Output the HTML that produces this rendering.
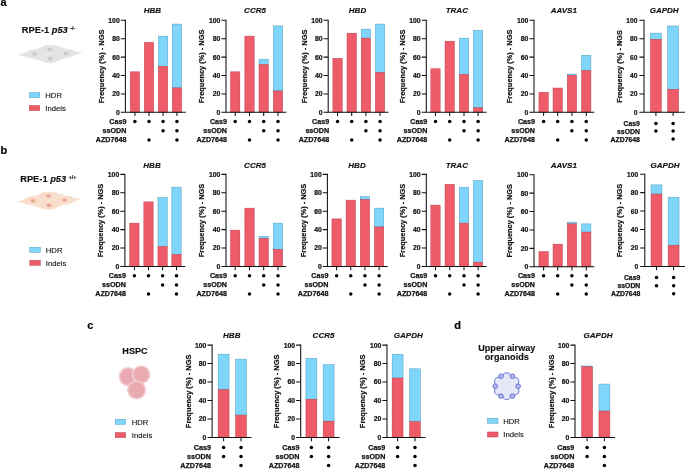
<!DOCTYPE html>
<html><head><meta charset="utf-8"><title>Figure</title>
<style>
html,body{margin:0;padding:0;background:#fff;}
body{width:685px;height:470px;overflow:hidden;}
svg{display:block;font-family:"Liberation Sans", Arial, sans-serif;filter:blur(0.3px);}
text{paint-order:stroke;stroke-linejoin:round;}
.tk{font-weight:bold;fill:#111;stroke:#111;stroke-width:0.22px;}
.tt{font-size:8px;font-weight:bold;font-style:italic;fill:#111;stroke:#111;stroke-width:0.15px;}
.yl{font-weight:bold;fill:#111;stroke:#111;stroke-width:0.22px;}
.lb{font-weight:bold;fill:#111;stroke:#111;stroke-width:0.25px;}
.lg{font-size:7.7px;fill:#111;stroke:#111;stroke-width:0.12px;}
.pl{font-size:11px;font-weight:bold;fill:#000;stroke:#000;stroke-width:0.2px;}
.ct{font-size:9.3px;font-weight:bold;fill:#111;stroke:#111;stroke-width:0.15px;}
.ct2{font-size:9.1px;font-weight:bold;fill:#111;stroke:#111;stroke-width:0.15px;}
</style></head><body>
<svg width="685" height="470" viewBox="0 0 685 470">
<rect width="685" height="470" fill="#fff"/>
<rect x="130.25" y="71.82" width="9.30" height="40.48" fill="#EE5C69" stroke="#BC3E4B" stroke-width="0.5"/>
<rect x="144.35" y="42.38" width="9.30" height="69.92" fill="#EE5C69" stroke="#BC3E4B" stroke-width="0.5"/>
<rect x="158.40" y="36.12" width="9.30" height="30.18" fill="#80D6FA" stroke="#4F9BBD" stroke-width="0.5"/>
<rect x="158.40" y="66.30" width="9.30" height="46.00" fill="#EE5C69" stroke="#BC3E4B" stroke-width="0.5"/>
<rect x="172.30" y="24.07" width="9.30" height="63.85" fill="#80D6FA" stroke="#4F9BBD" stroke-width="0.5"/>
<rect x="172.30" y="87.92" width="9.30" height="24.38" fill="#EE5C69" stroke="#BC3E4B" stroke-width="0.5"/>
<path d="M125.40 19.80V112.80M124.90 112.30H185.70" stroke="#111" stroke-width="1.05" fill="none"/>
<path d="M120.80 112.30H125.40M120.80 93.90H125.40M120.80 75.50H125.40M120.80 57.10H125.40M120.80 38.70H125.40M120.80 20.30H125.40M134.90 112.30V116.10M149.00 112.30V116.10M163.05 112.30V116.10M176.95 112.30V116.10" stroke="#111" stroke-width="1.05" fill="none"/>
<text x="119.70" y="115" text-anchor="end" class="tk" font-size="6.8">0</text>
<text x="119.70" y="96" text-anchor="end" class="tk" font-size="6.8">20</text>
<text x="119.70" y="78" text-anchor="end" class="tk" font-size="6.8">40</text>
<text x="119.70" y="60" text-anchor="end" class="tk" font-size="6.8">60</text>
<text x="119.70" y="41" text-anchor="end" class="tk" font-size="6.8">80</text>
<text x="119.70" y="23" text-anchor="end" class="tk" font-size="6.8">100</text>
<text x="152.30" y="13" text-anchor="middle" class="tt">HBB</text>
<text transform="translate(103.70 66.40) rotate(-90)" text-anchor="middle" class="yl" font-size="7.4">Frequency (%) - NGS</text>
<text x="126.40" y="124" text-anchor="end" class="lb" font-size="7.15">Cas9</text>
<circle cx="134.90" cy="121.50" r="1.75" fill="#000"/>
<circle cx="149.00" cy="121.50" r="1.75" fill="#000"/>
<circle cx="163.05" cy="121.50" r="1.75" fill="#000"/>
<circle cx="176.95" cy="121.50" r="1.75" fill="#000"/>
<text x="126.40" y="133" text-anchor="end" class="lb" font-size="7.15">ssODN</text>
<circle cx="163.05" cy="130.70" r="1.75" fill="#000"/>
<circle cx="176.95" cy="130.70" r="1.75" fill="#000"/>
<text x="126.40" y="142" text-anchor="end" class="lb" font-size="7.15">AZD7648</text>
<circle cx="149.00" cy="139.90" r="1.75" fill="#000"/>
<circle cx="176.95" cy="139.90" r="1.75" fill="#000"/>
<rect x="230.55" y="71.82" width="9.30" height="40.48" fill="#EE5C69" stroke="#BC3E4B" stroke-width="0.5"/>
<rect x="244.85" y="36.12" width="9.30" height="76.18" fill="#EE5C69" stroke="#BC3E4B" stroke-width="0.5"/>
<rect x="259.05" y="59.22" width="9.30" height="5.24" fill="#80D6FA" stroke="#4F9BBD" stroke-width="0.5"/>
<rect x="259.05" y="64.46" width="9.30" height="47.84" fill="#EE5C69" stroke="#BC3E4B" stroke-width="0.5"/>
<rect x="273.35" y="25.91" width="9.30" height="65.04" fill="#80D6FA" stroke="#4F9BBD" stroke-width="0.5"/>
<rect x="273.35" y="90.96" width="9.30" height="21.34" fill="#EE5C69" stroke="#BC3E4B" stroke-width="0.5"/>
<path d="M226.00 19.80V112.80M225.50 112.30H286.30" stroke="#111" stroke-width="1.05" fill="none"/>
<path d="M221.40 112.30H226.00M221.40 93.90H226.00M221.40 75.50H226.00M221.40 57.10H226.00M221.40 38.70H226.00M221.40 20.30H226.00M235.20 112.30V116.10M249.50 112.30V116.10M263.70 112.30V116.10M278.00 112.30V116.10" stroke="#111" stroke-width="1.05" fill="none"/>
<text x="220.30" y="115" text-anchor="end" class="tk" font-size="6.8">0</text>
<text x="220.30" y="96" text-anchor="end" class="tk" font-size="6.8">20</text>
<text x="220.30" y="78" text-anchor="end" class="tk" font-size="6.8">40</text>
<text x="220.30" y="60" text-anchor="end" class="tk" font-size="6.8">60</text>
<text x="220.30" y="41" text-anchor="end" class="tk" font-size="6.8">80</text>
<text x="220.30" y="23" text-anchor="end" class="tk" font-size="6.8">100</text>
<text x="255.00" y="13" text-anchor="middle" class="tt">CCR5</text>
<text transform="translate(204.30 66.40) rotate(-90)" text-anchor="middle" class="yl" font-size="7.4">Frequency (%) - NGS</text>
<text x="227.00" y="124" text-anchor="end" class="lb" font-size="7.15">Cas9</text>
<circle cx="235.20" cy="121.50" r="1.75" fill="#000"/>
<circle cx="249.50" cy="121.50" r="1.75" fill="#000"/>
<circle cx="263.70" cy="121.50" r="1.75" fill="#000"/>
<circle cx="278.00" cy="121.50" r="1.75" fill="#000"/>
<text x="227.00" y="133" text-anchor="end" class="lb" font-size="7.15">ssODN</text>
<circle cx="263.70" cy="130.70" r="1.75" fill="#000"/>
<circle cx="278.00" cy="130.70" r="1.75" fill="#000"/>
<text x="227.00" y="142" text-anchor="end" class="lb" font-size="7.15">AZD7648</text>
<circle cx="249.50" cy="139.90" r="1.75" fill="#000"/>
<circle cx="278.00" cy="139.90" r="1.75" fill="#000"/>
<rect x="332.90" y="58.30" width="9.30" height="54.00" fill="#EE5C69" stroke="#BC3E4B" stroke-width="0.5"/>
<rect x="347.05" y="33.18" width="9.30" height="79.12" fill="#EE5C69" stroke="#BC3E4B" stroke-width="0.5"/>
<rect x="361.25" y="29.13" width="9.30" height="9.02" fill="#80D6FA" stroke="#4F9BBD" stroke-width="0.5"/>
<rect x="361.25" y="38.15" width="9.30" height="74.15" fill="#EE5C69" stroke="#BC3E4B" stroke-width="0.5"/>
<rect x="375.40" y="24.07" width="9.30" height="48.48" fill="#80D6FA" stroke="#4F9BBD" stroke-width="0.5"/>
<rect x="375.40" y="72.56" width="9.30" height="39.74" fill="#EE5C69" stroke="#BC3E4B" stroke-width="0.5"/>
<path d="M328.20 19.80V112.80M327.70 112.30H388.50" stroke="#111" stroke-width="1.05" fill="none"/>
<path d="M323.60 112.30H328.20M323.60 93.90H328.20M323.60 75.50H328.20M323.60 57.10H328.20M323.60 38.70H328.20M323.60 20.30H328.20M337.55 112.30V116.10M351.70 112.30V116.10M365.90 112.30V116.10M380.05 112.30V116.10" stroke="#111" stroke-width="1.05" fill="none"/>
<text x="322.50" y="115" text-anchor="end" class="tk" font-size="6.8">0</text>
<text x="322.50" y="96" text-anchor="end" class="tk" font-size="6.8">20</text>
<text x="322.50" y="78" text-anchor="end" class="tk" font-size="6.8">40</text>
<text x="322.50" y="60" text-anchor="end" class="tk" font-size="6.8">60</text>
<text x="322.50" y="41" text-anchor="end" class="tk" font-size="6.8">80</text>
<text x="322.50" y="23" text-anchor="end" class="tk" font-size="6.8">100</text>
<text x="357.50" y="13" text-anchor="middle" class="tt">HBD</text>
<text transform="translate(306.50 66.40) rotate(-90)" text-anchor="middle" class="yl" font-size="7.4">Frequency (%) - NGS</text>
<text x="329.20" y="124" text-anchor="end" class="lb" font-size="7.15">Cas9</text>
<circle cx="337.55" cy="121.50" r="1.75" fill="#000"/>
<circle cx="351.70" cy="121.50" r="1.75" fill="#000"/>
<circle cx="365.90" cy="121.50" r="1.75" fill="#000"/>
<circle cx="380.05" cy="121.50" r="1.75" fill="#000"/>
<text x="329.20" y="133" text-anchor="end" class="lb" font-size="7.15">ssODN</text>
<circle cx="365.90" cy="130.70" r="1.75" fill="#000"/>
<circle cx="380.05" cy="130.70" r="1.75" fill="#000"/>
<text x="329.20" y="142" text-anchor="end" class="lb" font-size="7.15">AZD7648</text>
<circle cx="351.70" cy="139.90" r="1.75" fill="#000"/>
<circle cx="380.05" cy="139.90" r="1.75" fill="#000"/>
<rect x="430.85" y="68.78" width="9.30" height="43.52" fill="#EE5C69" stroke="#BC3E4B" stroke-width="0.5"/>
<rect x="445.05" y="41.18" width="9.30" height="71.12" fill="#EE5C69" stroke="#BC3E4B" stroke-width="0.5"/>
<rect x="459.35" y="38.15" width="9.30" height="36.43" fill="#80D6FA" stroke="#4F9BBD" stroke-width="0.5"/>
<rect x="459.35" y="74.58" width="9.30" height="37.72" fill="#EE5C69" stroke="#BC3E4B" stroke-width="0.5"/>
<rect x="473.45" y="30.42" width="9.30" height="77.37" fill="#80D6FA" stroke="#4F9BBD" stroke-width="0.5"/>
<rect x="473.45" y="107.79" width="9.30" height="4.51" fill="#EE5C69" stroke="#BC3E4B" stroke-width="0.5"/>
<path d="M426.30 19.80V112.80M425.80 112.30H486.60" stroke="#111" stroke-width="1.05" fill="none"/>
<path d="M421.70 112.30H426.30M421.70 93.90H426.30M421.70 75.50H426.30M421.70 57.10H426.30M421.70 38.70H426.30M421.70 20.30H426.30M435.50 112.30V116.10M449.70 112.30V116.10M464.00 112.30V116.10M478.10 112.30V116.10" stroke="#111" stroke-width="1.05" fill="none"/>
<text x="420.60" y="115" text-anchor="end" class="tk" font-size="6.8">0</text>
<text x="420.60" y="96" text-anchor="end" class="tk" font-size="6.8">20</text>
<text x="420.60" y="78" text-anchor="end" class="tk" font-size="6.8">40</text>
<text x="420.60" y="60" text-anchor="end" class="tk" font-size="6.8">60</text>
<text x="420.60" y="41" text-anchor="end" class="tk" font-size="6.8">80</text>
<text x="420.60" y="23" text-anchor="end" class="tk" font-size="6.8">100</text>
<text x="456.80" y="13" text-anchor="middle" class="tt">TRAC</text>
<text transform="translate(404.60 66.40) rotate(-90)" text-anchor="middle" class="yl" font-size="7.4">Frequency (%) - NGS</text>
<text x="427.30" y="124" text-anchor="end" class="lb" font-size="7.15">Cas9</text>
<circle cx="435.50" cy="121.50" r="1.75" fill="#000"/>
<circle cx="449.70" cy="121.50" r="1.75" fill="#000"/>
<circle cx="464.00" cy="121.50" r="1.75" fill="#000"/>
<circle cx="478.10" cy="121.50" r="1.75" fill="#000"/>
<text x="427.30" y="133" text-anchor="end" class="lb" font-size="7.15">ssODN</text>
<circle cx="464.00" cy="130.70" r="1.75" fill="#000"/>
<circle cx="478.10" cy="130.70" r="1.75" fill="#000"/>
<text x="427.30" y="142" text-anchor="end" class="lb" font-size="7.15">AZD7648</text>
<circle cx="449.70" cy="139.90" r="1.75" fill="#000"/>
<circle cx="478.10" cy="139.90" r="1.75" fill="#000"/>
<rect x="538.95" y="92.34" width="9.30" height="19.96" fill="#EE5C69" stroke="#BC3E4B" stroke-width="0.5"/>
<rect x="553.05" y="88.01" width="9.30" height="24.29" fill="#EE5C69" stroke="#BC3E4B" stroke-width="0.5"/>
<rect x="567.25" y="74.03" width="9.30" height="1.29" fill="#80D6FA" stroke="#4F9BBD" stroke-width="0.5"/>
<rect x="567.25" y="75.32" width="9.30" height="36.98" fill="#EE5C69" stroke="#BC3E4B" stroke-width="0.5"/>
<rect x="581.60" y="55.26" width="9.30" height="15.27" fill="#80D6FA" stroke="#4F9BBD" stroke-width="0.5"/>
<rect x="581.60" y="70.53" width="9.30" height="41.77" fill="#EE5C69" stroke="#BC3E4B" stroke-width="0.5"/>
<path d="M534.00 19.80V112.80M533.50 112.30H594.30" stroke="#111" stroke-width="1.05" fill="none"/>
<path d="M529.40 112.30H534.00M529.40 93.90H534.00M529.40 75.50H534.00M529.40 57.10H534.00M529.40 38.70H534.00M529.40 20.30H534.00M543.60 112.30V116.10M557.70 112.30V116.10M571.90 112.30V116.10M586.25 112.30V116.10" stroke="#111" stroke-width="1.05" fill="none"/>
<text x="528.30" y="115" text-anchor="end" class="tk" font-size="6.8">0</text>
<text x="528.30" y="96" text-anchor="end" class="tk" font-size="6.8">20</text>
<text x="528.30" y="78" text-anchor="end" class="tk" font-size="6.8">40</text>
<text x="528.30" y="60" text-anchor="end" class="tk" font-size="6.8">60</text>
<text x="528.30" y="41" text-anchor="end" class="tk" font-size="6.8">80</text>
<text x="528.30" y="23" text-anchor="end" class="tk" font-size="6.8">100</text>
<text x="563.80" y="13" text-anchor="middle" class="tt">AAVS1</text>
<text transform="translate(512.30 66.40) rotate(-90)" text-anchor="middle" class="yl" font-size="7.4">Frequency (%) - NGS</text>
<text x="535.00" y="124" text-anchor="end" class="lb" font-size="7.15">Cas9</text>
<circle cx="543.60" cy="121.50" r="1.75" fill="#000"/>
<circle cx="557.70" cy="121.50" r="1.75" fill="#000"/>
<circle cx="571.90" cy="121.50" r="1.75" fill="#000"/>
<circle cx="586.25" cy="121.50" r="1.75" fill="#000"/>
<text x="535.00" y="133" text-anchor="end" class="lb" font-size="7.15">ssODN</text>
<circle cx="571.90" cy="130.70" r="1.75" fill="#000"/>
<circle cx="586.25" cy="130.70" r="1.75" fill="#000"/>
<text x="535.00" y="142" text-anchor="end" class="lb" font-size="7.15">AZD7648</text>
<circle cx="557.70" cy="139.90" r="1.75" fill="#000"/>
<circle cx="586.25" cy="139.90" r="1.75" fill="#000"/>
<rect x="650.45" y="33.09" width="10.90" height="6.26" fill="#80D6FA" stroke="#4F9BBD" stroke-width="0.5"/>
<rect x="650.45" y="39.34" width="10.90" height="72.96" fill="#EE5C69" stroke="#BC3E4B" stroke-width="0.5"/>
<rect x="667.65" y="26.00" width="10.90" height="63.30" fill="#80D6FA" stroke="#4F9BBD" stroke-width="0.5"/>
<rect x="667.65" y="89.30" width="10.90" height="23.00" fill="#EE5C69" stroke="#BC3E4B" stroke-width="0.5"/>
<path d="M644.00 19.80V112.80M643.50 112.30H686.00" stroke="#111" stroke-width="1.05" fill="none"/>
<path d="M639.40 112.30H644.00M639.40 93.90H644.00M639.40 75.50H644.00M639.40 57.10H644.00M639.40 38.70H644.00M639.40 20.30H644.00M655.90 112.30V116.10M673.10 112.30V116.10" stroke="#111" stroke-width="1.05" fill="none"/>
<text x="637.40" y="115" text-anchor="end" class="tk" font-size="6.65">0</text>
<text x="637.40" y="96" text-anchor="end" class="tk" font-size="6.65">20</text>
<text x="637.40" y="78" text-anchor="end" class="tk" font-size="6.65">40</text>
<text x="637.40" y="60" text-anchor="end" class="tk" font-size="6.65">60</text>
<text x="637.40" y="41" text-anchor="end" class="tk" font-size="6.65">80</text>
<text x="637.40" y="23" text-anchor="end" class="tk" font-size="6.65">100</text>
<text x="664.20" y="13" text-anchor="middle" class="tt">GAPDH</text>
<text transform="translate(621.50 66.50) rotate(-90)" text-anchor="middle" class="yl" font-size="7.3">Frequency (%) - NGS</text>
<text x="639.90" y="126" text-anchor="end" class="lb" font-size="6.85">Cas9</text>
<circle cx="655.90" cy="123.40" r="1.75" fill="#000"/>
<circle cx="673.10" cy="123.40" r="1.75" fill="#000"/>
<text x="639.90" y="134" text-anchor="end" class="lb" font-size="6.85">ssODN</text>
<circle cx="655.90" cy="131.10" r="1.75" fill="#000"/>
<circle cx="673.10" cy="131.10" r="1.75" fill="#000"/>
<text x="639.90" y="142" text-anchor="end" class="lb" font-size="6.85">AZD7648</text>
<circle cx="673.10" cy="139.10" r="1.75" fill="#000"/>
<rect x="129.75" y="223.16" width="9.30" height="43.29" fill="#EE5C69" stroke="#BC3E4B" stroke-width="0.5"/>
<rect x="143.85" y="201.89" width="9.30" height="64.56" fill="#EE5C69" stroke="#BC3E4B" stroke-width="0.5"/>
<rect x="157.95" y="197.65" width="9.30" height="48.81" fill="#80D6FA" stroke="#4F9BBD" stroke-width="0.5"/>
<rect x="157.95" y="246.46" width="9.30" height="19.99" fill="#EE5C69" stroke="#BC3E4B" stroke-width="0.5"/>
<rect x="171.85" y="187.15" width="9.30" height="67.33" fill="#80D6FA" stroke="#4F9BBD" stroke-width="0.5"/>
<rect x="171.85" y="254.48" width="9.30" height="11.97" fill="#EE5C69" stroke="#BC3E4B" stroke-width="0.5"/>
<path d="M124.90 173.85V266.95M124.40 266.45H185.20" stroke="#111" stroke-width="1.05" fill="none"/>
<path d="M120.30 266.45H124.90M120.30 248.03H124.90M120.30 229.61H124.90M120.30 211.19H124.90M120.30 192.77H124.90M120.30 174.35H124.90M134.40 266.45V270.25M148.50 266.45V270.25M162.60 266.45V270.25M176.50 266.45V270.25" stroke="#111" stroke-width="1.05" fill="none"/>
<text x="119.20" y="269" text-anchor="end" class="tk" font-size="6.8">0</text>
<text x="119.20" y="250" text-anchor="end" class="tk" font-size="6.8">20</text>
<text x="119.20" y="232" text-anchor="end" class="tk" font-size="6.8">40</text>
<text x="119.20" y="214" text-anchor="end" class="tk" font-size="6.8">60</text>
<text x="119.20" y="195" text-anchor="end" class="tk" font-size="6.8">80</text>
<text x="119.20" y="177" text-anchor="end" class="tk" font-size="6.8">100</text>
<text x="152.00" y="168" text-anchor="middle" class="tt">HBB</text>
<text transform="translate(103.20 220.50) rotate(-90)" text-anchor="middle" class="yl" font-size="7.4">Frequency (%) - NGS</text>
<text x="125.90" y="278" text-anchor="end" class="lb" font-size="7.15">Cas9</text>
<circle cx="134.40" cy="275.70" r="1.75" fill="#000"/>
<circle cx="148.50" cy="275.70" r="1.75" fill="#000"/>
<circle cx="162.60" cy="275.70" r="1.75" fill="#000"/>
<circle cx="176.50" cy="275.70" r="1.75" fill="#000"/>
<text x="125.90" y="287" text-anchor="end" class="lb" font-size="7.15">ssODN</text>
<circle cx="162.60" cy="284.90" r="1.75" fill="#000"/>
<circle cx="176.50" cy="284.90" r="1.75" fill="#000"/>
<text x="125.90" y="296" text-anchor="end" class="lb" font-size="7.15">AZD7648</text>
<circle cx="148.50" cy="293.90" r="1.75" fill="#000"/>
<circle cx="176.50" cy="293.90" r="1.75" fill="#000"/>
<rect x="230.55" y="230.16" width="9.30" height="36.29" fill="#EE5C69" stroke="#BC3E4B" stroke-width="0.5"/>
<rect x="244.85" y="208.15" width="9.30" height="58.30" fill="#EE5C69" stroke="#BC3E4B" stroke-width="0.5"/>
<rect x="259.05" y="236.33" width="9.30" height="2.12" fill="#80D6FA" stroke="#4F9BBD" stroke-width="0.5"/>
<rect x="259.05" y="238.45" width="9.30" height="28.00" fill="#EE5C69" stroke="#BC3E4B" stroke-width="0.5"/>
<rect x="273.35" y="223.16" width="9.30" height="26.25" fill="#80D6FA" stroke="#4F9BBD" stroke-width="0.5"/>
<rect x="273.35" y="249.41" width="9.30" height="17.04" fill="#EE5C69" stroke="#BC3E4B" stroke-width="0.5"/>
<path d="M226.00 173.85V266.95M225.50 266.45H286.30" stroke="#111" stroke-width="1.05" fill="none"/>
<path d="M221.40 266.45H226.00M221.40 248.03H226.00M221.40 229.61H226.00M221.40 211.19H226.00M221.40 192.77H226.00M221.40 174.35H226.00M235.20 266.45V270.25M249.50 266.45V270.25M263.70 266.45V270.25M278.00 266.45V270.25" stroke="#111" stroke-width="1.05" fill="none"/>
<text x="220.30" y="269" text-anchor="end" class="tk" font-size="6.8">0</text>
<text x="220.30" y="250" text-anchor="end" class="tk" font-size="6.8">20</text>
<text x="220.30" y="232" text-anchor="end" class="tk" font-size="6.8">40</text>
<text x="220.30" y="214" text-anchor="end" class="tk" font-size="6.8">60</text>
<text x="220.30" y="195" text-anchor="end" class="tk" font-size="6.8">80</text>
<text x="220.30" y="177" text-anchor="end" class="tk" font-size="6.8">100</text>
<text x="255.00" y="168" text-anchor="middle" class="tt">CCR5</text>
<text transform="translate(204.30 220.50) rotate(-90)" text-anchor="middle" class="yl" font-size="7.4">Frequency (%) - NGS</text>
<text x="227.00" y="278" text-anchor="end" class="lb" font-size="7.15">Cas9</text>
<circle cx="235.20" cy="275.70" r="1.75" fill="#000"/>
<circle cx="249.50" cy="275.70" r="1.75" fill="#000"/>
<circle cx="263.70" cy="275.70" r="1.75" fill="#000"/>
<circle cx="278.00" cy="275.70" r="1.75" fill="#000"/>
<text x="227.00" y="287" text-anchor="end" class="lb" font-size="7.15">ssODN</text>
<circle cx="263.70" cy="284.90" r="1.75" fill="#000"/>
<circle cx="278.00" cy="284.90" r="1.75" fill="#000"/>
<text x="227.00" y="296" text-anchor="end" class="lb" font-size="7.15">AZD7648</text>
<circle cx="249.50" cy="293.90" r="1.75" fill="#000"/>
<circle cx="278.00" cy="293.90" r="1.75" fill="#000"/>
<rect x="331.95" y="218.93" width="9.30" height="47.52" fill="#EE5C69" stroke="#BC3E4B" stroke-width="0.5"/>
<rect x="346.10" y="200.14" width="9.30" height="66.31" fill="#EE5C69" stroke="#BC3E4B" stroke-width="0.5"/>
<rect x="360.30" y="196.64" width="9.30" height="2.95" fill="#80D6FA" stroke="#4F9BBD" stroke-width="0.5"/>
<rect x="360.30" y="199.59" width="9.30" height="66.86" fill="#EE5C69" stroke="#BC3E4B" stroke-width="0.5"/>
<rect x="374.45" y="208.15" width="9.30" height="18.79" fill="#80D6FA" stroke="#4F9BBD" stroke-width="0.5"/>
<rect x="374.45" y="226.94" width="9.30" height="39.51" fill="#EE5C69" stroke="#BC3E4B" stroke-width="0.5"/>
<path d="M327.40 173.85V266.95M326.90 266.45H387.70" stroke="#111" stroke-width="1.05" fill="none"/>
<path d="M322.80 266.45H327.40M322.80 248.03H327.40M322.80 229.61H327.40M322.80 211.19H327.40M322.80 192.77H327.40M322.80 174.35H327.40M336.60 266.45V270.25M350.75 266.45V270.25M364.95 266.45V270.25M379.10 266.45V270.25" stroke="#111" stroke-width="1.05" fill="none"/>
<text x="321.70" y="269" text-anchor="end" class="tk" font-size="6.8">0</text>
<text x="321.70" y="250" text-anchor="end" class="tk" font-size="6.8">20</text>
<text x="321.70" y="232" text-anchor="end" class="tk" font-size="6.8">40</text>
<text x="321.70" y="214" text-anchor="end" class="tk" font-size="6.8">60</text>
<text x="321.70" y="195" text-anchor="end" class="tk" font-size="6.8">80</text>
<text x="321.70" y="177" text-anchor="end" class="tk" font-size="6.8">100</text>
<text x="357.00" y="168" text-anchor="middle" class="tt">HBD</text>
<text transform="translate(305.70 220.50) rotate(-90)" text-anchor="middle" class="yl" font-size="7.4">Frequency (%) - NGS</text>
<text x="328.40" y="278" text-anchor="end" class="lb" font-size="7.15">Cas9</text>
<circle cx="336.60" cy="275.70" r="1.75" fill="#000"/>
<circle cx="350.75" cy="275.70" r="1.75" fill="#000"/>
<circle cx="364.95" cy="275.70" r="1.75" fill="#000"/>
<circle cx="379.10" cy="275.70" r="1.75" fill="#000"/>
<text x="328.40" y="287" text-anchor="end" class="lb" font-size="7.15">ssODN</text>
<circle cx="364.95" cy="284.90" r="1.75" fill="#000"/>
<circle cx="379.10" cy="284.90" r="1.75" fill="#000"/>
<text x="328.40" y="296" text-anchor="end" class="lb" font-size="7.15">AZD7648</text>
<circle cx="350.75" cy="293.90" r="1.75" fill="#000"/>
<circle cx="379.10" cy="293.90" r="1.75" fill="#000"/>
<rect x="430.85" y="205.11" width="9.30" height="61.34" fill="#EE5C69" stroke="#BC3E4B" stroke-width="0.5"/>
<rect x="445.05" y="184.39" width="9.30" height="82.06" fill="#EE5C69" stroke="#BC3E4B" stroke-width="0.5"/>
<rect x="459.35" y="187.24" width="9.30" height="35.92" fill="#80D6FA" stroke="#4F9BBD" stroke-width="0.5"/>
<rect x="459.35" y="223.16" width="9.30" height="43.29" fill="#EE5C69" stroke="#BC3E4B" stroke-width="0.5"/>
<rect x="473.45" y="180.61" width="9.30" height="81.60" fill="#80D6FA" stroke="#4F9BBD" stroke-width="0.5"/>
<rect x="473.45" y="262.21" width="9.30" height="4.24" fill="#EE5C69" stroke="#BC3E4B" stroke-width="0.5"/>
<path d="M426.30 173.85V266.95M425.80 266.45H486.60" stroke="#111" stroke-width="1.05" fill="none"/>
<path d="M421.70 266.45H426.30M421.70 248.03H426.30M421.70 229.61H426.30M421.70 211.19H426.30M421.70 192.77H426.30M421.70 174.35H426.30M435.50 266.45V270.25M449.70 266.45V270.25M464.00 266.45V270.25M478.10 266.45V270.25" stroke="#111" stroke-width="1.05" fill="none"/>
<text x="420.60" y="269" text-anchor="end" class="tk" font-size="6.8">0</text>
<text x="420.60" y="250" text-anchor="end" class="tk" font-size="6.8">20</text>
<text x="420.60" y="232" text-anchor="end" class="tk" font-size="6.8">40</text>
<text x="420.60" y="214" text-anchor="end" class="tk" font-size="6.8">60</text>
<text x="420.60" y="195" text-anchor="end" class="tk" font-size="6.8">80</text>
<text x="420.60" y="177" text-anchor="end" class="tk" font-size="6.8">100</text>
<text x="456.80" y="168" text-anchor="middle" class="tt">TRAC</text>
<text transform="translate(404.60 220.50) rotate(-90)" text-anchor="middle" class="yl" font-size="7.4">Frequency (%) - NGS</text>
<text x="427.30" y="278" text-anchor="end" class="lb" font-size="7.15">Cas9</text>
<circle cx="435.50" cy="275.70" r="1.75" fill="#000"/>
<circle cx="449.70" cy="275.70" r="1.75" fill="#000"/>
<circle cx="464.00" cy="275.70" r="1.75" fill="#000"/>
<circle cx="478.10" cy="275.70" r="1.75" fill="#000"/>
<text x="427.30" y="287" text-anchor="end" class="lb" font-size="7.15">ssODN</text>
<circle cx="464.00" cy="284.90" r="1.75" fill="#000"/>
<circle cx="478.10" cy="284.90" r="1.75" fill="#000"/>
<text x="427.30" y="296" text-anchor="end" class="lb" font-size="7.15">AZD7648</text>
<circle cx="449.70" cy="293.90" r="1.75" fill="#000"/>
<circle cx="478.10" cy="293.90" r="1.75" fill="#000"/>
<rect x="538.95" y="251.60" width="9.30" height="15.20" fill="#EE5C69" stroke="#BC3E4B" stroke-width="0.5"/>
<rect x="553.05" y="244.14" width="9.30" height="22.66" fill="#EE5C69" stroke="#BC3E4B" stroke-width="0.5"/>
<rect x="567.25" y="222.13" width="9.30" height="1.75" fill="#80D6FA" stroke="#4F9BBD" stroke-width="0.5"/>
<rect x="567.25" y="223.88" width="9.30" height="42.92" fill="#EE5C69" stroke="#BC3E4B" stroke-width="0.5"/>
<rect x="581.60" y="223.88" width="9.30" height="8.20" fill="#80D6FA" stroke="#4F9BBD" stroke-width="0.5"/>
<rect x="581.60" y="232.08" width="9.30" height="34.72" fill="#EE5C69" stroke="#BC3E4B" stroke-width="0.5"/>
<path d="M534.00 174.20V267.30M533.50 266.80H594.30" stroke="#111" stroke-width="1.05" fill="none"/>
<path d="M529.40 266.80H534.00M529.40 248.38H534.00M529.40 229.96H534.00M529.40 211.54H534.00M529.40 193.12H534.00M529.40 174.70H534.00M543.60 266.80V270.60M557.70 266.80V270.60M571.90 266.80V270.60M586.25 266.80V270.60" stroke="#111" stroke-width="1.05" fill="none"/>
<text x="528.30" y="269" text-anchor="end" class="tk" font-size="6.8">0</text>
<text x="528.30" y="251" text-anchor="end" class="tk" font-size="6.8">20</text>
<text x="528.30" y="232" text-anchor="end" class="tk" font-size="6.8">40</text>
<text x="528.30" y="214" text-anchor="end" class="tk" font-size="6.8">60</text>
<text x="528.30" y="196" text-anchor="end" class="tk" font-size="6.8">80</text>
<text x="528.30" y="177" text-anchor="end" class="tk" font-size="6.8">100</text>
<text x="563.80" y="168" text-anchor="middle" class="tt">AAVS1</text>
<text transform="translate(512.30 220.85) rotate(-90)" text-anchor="middle" class="yl" font-size="7.4">Frequency (%) - NGS</text>
<text x="535.00" y="278" text-anchor="end" class="lb" font-size="7.15">Cas9</text>
<circle cx="543.60" cy="275.70" r="1.75" fill="#000"/>
<circle cx="557.70" cy="275.70" r="1.75" fill="#000"/>
<circle cx="571.90" cy="275.70" r="1.75" fill="#000"/>
<circle cx="586.25" cy="275.70" r="1.75" fill="#000"/>
<text x="535.00" y="287" text-anchor="end" class="lb" font-size="7.15">ssODN</text>
<circle cx="571.90" cy="284.90" r="1.75" fill="#000"/>
<circle cx="586.25" cy="284.90" r="1.75" fill="#000"/>
<text x="535.00" y="296" text-anchor="end" class="lb" font-size="7.15">AZD7648</text>
<circle cx="557.70" cy="293.90" r="1.75" fill="#000"/>
<circle cx="586.25" cy="293.90" r="1.75" fill="#000"/>
<rect x="651.05" y="184.86" width="10.90" height="9.23" fill="#80D6FA" stroke="#4F9BBD" stroke-width="0.5"/>
<rect x="651.05" y="194.09" width="10.90" height="72.36" fill="#EE5C69" stroke="#BC3E4B" stroke-width="0.5"/>
<rect x="668.15" y="197.32" width="10.90" height="47.90" fill="#80D6FA" stroke="#4F9BBD" stroke-width="0.5"/>
<rect x="668.15" y="245.22" width="10.90" height="21.23" fill="#EE5C69" stroke="#BC3E4B" stroke-width="0.5"/>
<path d="M644.80 173.65V266.95M644.30 266.45H686.00" stroke="#111" stroke-width="1.05" fill="none"/>
<path d="M640.20 266.45H644.80M640.20 247.99H644.80M640.20 229.53H644.80M640.20 211.07H644.80M640.20 192.61H644.80M640.20 174.15H644.80M656.50 266.45V270.25M673.60 266.45V270.25" stroke="#111" stroke-width="1.05" fill="none"/>
<text x="638.20" y="269" text-anchor="end" class="tk" font-size="6.65">0</text>
<text x="638.20" y="250" text-anchor="end" class="tk" font-size="6.65">20</text>
<text x="638.20" y="232" text-anchor="end" class="tk" font-size="6.65">40</text>
<text x="638.20" y="214" text-anchor="end" class="tk" font-size="6.65">60</text>
<text x="638.20" y="195" text-anchor="end" class="tk" font-size="6.65">80</text>
<text x="638.20" y="177" text-anchor="end" class="tk" font-size="6.65">100</text>
<text x="665.00" y="168" text-anchor="middle" class="tt">GAPDH</text>
<text transform="translate(622.40 220.50) rotate(-90)" text-anchor="middle" class="yl" font-size="7.4">Frequency (%) - NGS</text>
<text x="640.30" y="280" text-anchor="end" class="lb" font-size="6.85">Cas9</text>
<circle cx="656.50" cy="277.60" r="1.75" fill="#000"/>
<circle cx="673.60" cy="277.60" r="1.75" fill="#000"/>
<text x="640.30" y="288" text-anchor="end" class="lb" font-size="6.85">ssODN</text>
<circle cx="656.50" cy="285.70" r="1.75" fill="#000"/>
<circle cx="673.60" cy="285.70" r="1.75" fill="#000"/>
<text x="640.30" y="296" text-anchor="end" class="lb" font-size="6.85">AZD7648</text>
<circle cx="673.60" cy="293.70" r="1.75" fill="#000"/>
<rect x="218.15" y="354.15" width="10.90" height="35.55" fill="#80D6FA" stroke="#4F9BBD" stroke-width="0.5"/>
<rect x="218.15" y="389.71" width="10.90" height="47.74" fill="#EE5C69" stroke="#BC3E4B" stroke-width="0.5"/>
<rect x="235.55" y="359.14" width="10.90" height="55.96" fill="#80D6FA" stroke="#4F9BBD" stroke-width="0.5"/>
<rect x="235.55" y="415.10" width="10.90" height="22.35" fill="#EE5C69" stroke="#BC3E4B" stroke-width="0.5"/>
<path d="M212.10 344.60V437.95M211.60 437.45H251.50" stroke="#111" stroke-width="1.05" fill="none"/>
<path d="M207.50 437.45H212.10M207.50 418.98H212.10M207.50 400.51H212.10M207.50 382.04H212.10M207.50 363.57H212.10M207.50 345.10H212.10M223.60 437.45V441.25M241.00 437.45V441.25" stroke="#111" stroke-width="1.05" fill="none"/>
<text x="206.40" y="440" text-anchor="end" class="tk" font-size="6.8">0</text>
<text x="206.40" y="421" text-anchor="end" class="tk" font-size="6.8">20</text>
<text x="206.40" y="403" text-anchor="end" class="tk" font-size="6.8">40</text>
<text x="206.40" y="384" text-anchor="end" class="tk" font-size="6.8">60</text>
<text x="206.40" y="366" text-anchor="end" class="tk" font-size="6.8">80</text>
<text x="206.40" y="348" text-anchor="end" class="tk" font-size="6.8">100</text>
<text x="231.75" y="338" text-anchor="middle" class="tt">HBB</text>
<text transform="translate(191.10 391.38) rotate(-90)" text-anchor="middle" class="yl" font-size="7.4">Frequency (%) - NGS</text>
<text x="210.90" y="450" text-anchor="end" class="lb" font-size="7.15">Cas9</text>
<circle cx="223.60" cy="447.50" r="1.75" fill="#000"/>
<circle cx="241.00" cy="447.50" r="1.75" fill="#000"/>
<text x="210.90" y="459" text-anchor="end" class="lb" font-size="7.15">ssODN</text>
<circle cx="223.60" cy="456.50" r="1.75" fill="#000"/>
<circle cx="241.00" cy="456.50" r="1.75" fill="#000"/>
<text x="210.90" y="468" text-anchor="end" class="lb" font-size="7.15">AZD7648</text>
<circle cx="241.00" cy="465.60" r="1.75" fill="#000"/>
<rect x="305.95" y="358.31" width="10.90" height="40.91" fill="#80D6FA" stroke="#4F9BBD" stroke-width="0.5"/>
<rect x="305.95" y="399.22" width="10.90" height="38.23" fill="#EE5C69" stroke="#BC3E4B" stroke-width="0.5"/>
<rect x="323.15" y="364.59" width="10.90" height="56.61" fill="#80D6FA" stroke="#4F9BBD" stroke-width="0.5"/>
<rect x="323.15" y="421.20" width="10.90" height="16.25" fill="#EE5C69" stroke="#BC3E4B" stroke-width="0.5"/>
<path d="M300.70 344.60V437.95M300.20 437.45H339.60" stroke="#111" stroke-width="1.05" fill="none"/>
<path d="M296.10 437.45H300.70M296.10 418.98H300.70M296.10 400.51H300.70M296.10 382.04H300.70M296.10 363.57H300.70M296.10 345.10H300.70M311.40 437.45V441.25M328.60 437.45V441.25" stroke="#111" stroke-width="1.05" fill="none"/>
<text x="295.00" y="440" text-anchor="end" class="tk" font-size="6.8">0</text>
<text x="295.00" y="421" text-anchor="end" class="tk" font-size="6.8">20</text>
<text x="295.00" y="403" text-anchor="end" class="tk" font-size="6.8">40</text>
<text x="295.00" y="384" text-anchor="end" class="tk" font-size="6.8">60</text>
<text x="295.00" y="366" text-anchor="end" class="tk" font-size="6.8">80</text>
<text x="295.00" y="348" text-anchor="end" class="tk" font-size="6.8">100</text>
<text x="323.50" y="338" text-anchor="middle" class="tt">CCR5</text>
<text transform="translate(279.00 391.38) rotate(-90)" text-anchor="middle" class="yl" font-size="7.4">Frequency (%) - NGS</text>
<text x="299.40" y="450" text-anchor="end" class="lb" font-size="7.15">Cas9</text>
<circle cx="311.40" cy="447.50" r="1.75" fill="#000"/>
<circle cx="328.60" cy="447.50" r="1.75" fill="#000"/>
<text x="299.40" y="459" text-anchor="end" class="lb" font-size="7.15">ssODN</text>
<circle cx="311.40" cy="456.50" r="1.75" fill="#000"/>
<circle cx="328.60" cy="456.50" r="1.75" fill="#000"/>
<text x="299.40" y="468" text-anchor="end" class="lb" font-size="7.15">AZD7648</text>
<circle cx="328.60" cy="465.60" r="1.75" fill="#000"/>
<rect x="392.15" y="354.34" width="10.90" height="23.73" fill="#80D6FA" stroke="#4F9BBD" stroke-width="0.5"/>
<rect x="392.15" y="378.07" width="10.90" height="59.38" fill="#EE5C69" stroke="#BC3E4B" stroke-width="0.5"/>
<rect x="409.55" y="368.83" width="10.90" height="52.92" fill="#80D6FA" stroke="#4F9BBD" stroke-width="0.5"/>
<rect x="409.55" y="421.75" width="10.90" height="15.70" fill="#EE5C69" stroke="#BC3E4B" stroke-width="0.5"/>
<path d="M387.00 344.60V437.95M386.50 437.45H425.50" stroke="#111" stroke-width="1.05" fill="none"/>
<path d="M382.40 437.45H387.00M382.40 418.98H387.00M382.40 400.51H387.00M382.40 382.04H387.00M382.40 363.57H387.00M382.40 345.10H387.00M397.60 437.45V441.25M415.00 437.45V441.25" stroke="#111" stroke-width="1.05" fill="none"/>
<text x="381.30" y="440" text-anchor="end" class="tk" font-size="6.8">0</text>
<text x="381.30" y="421" text-anchor="end" class="tk" font-size="6.8">20</text>
<text x="381.30" y="403" text-anchor="end" class="tk" font-size="6.8">40</text>
<text x="381.30" y="384" text-anchor="end" class="tk" font-size="6.8">60</text>
<text x="381.30" y="366" text-anchor="end" class="tk" font-size="6.8">80</text>
<text x="381.30" y="348" text-anchor="end" class="tk" font-size="6.8">100</text>
<text x="408.25" y="338" text-anchor="middle" class="tt">GAPDH</text>
<text transform="translate(365.30 391.38) rotate(-90)" text-anchor="middle" class="yl" font-size="7.4">Frequency (%) - NGS</text>
<text x="385.30" y="450" text-anchor="end" class="lb" font-size="7.15">Cas9</text>
<circle cx="397.60" cy="447.50" r="1.75" fill="#000"/>
<circle cx="415.00" cy="447.50" r="1.75" fill="#000"/>
<text x="385.30" y="459" text-anchor="end" class="lb" font-size="7.15">ssODN</text>
<circle cx="397.60" cy="456.50" r="1.75" fill="#000"/>
<circle cx="415.00" cy="456.50" r="1.75" fill="#000"/>
<text x="385.30" y="468" text-anchor="end" class="lb" font-size="7.15">AZD7648</text>
<circle cx="415.00" cy="465.60" r="1.75" fill="#000"/>
<rect x="581.65" y="366.06" width="10.90" height="0.74" fill="#80D6FA" stroke="#4F9BBD" stroke-width="0.5"/>
<rect x="581.65" y="366.80" width="10.90" height="70.65" fill="#EE5C69" stroke="#BC3E4B" stroke-width="0.5"/>
<rect x="598.95" y="384.07" width="10.90" height="26.97" fill="#80D6FA" stroke="#4F9BBD" stroke-width="0.5"/>
<rect x="598.95" y="411.04" width="10.90" height="26.41" fill="#EE5C69" stroke="#BC3E4B" stroke-width="0.5"/>
<path d="M575.00 344.60V437.95M574.50 437.45H615.00" stroke="#111" stroke-width="1.05" fill="none"/>
<path d="M570.40 437.45H575.00M570.40 418.98H575.00M570.40 400.51H575.00M570.40 382.04H575.00M570.40 363.57H575.00M570.40 345.10H575.00M587.10 437.45V441.25M604.40 437.45V441.25" stroke="#111" stroke-width="1.05" fill="none"/>
<text x="569.30" y="440" text-anchor="end" class="tk" font-size="6.8">0</text>
<text x="569.30" y="421" text-anchor="end" class="tk" font-size="6.8">20</text>
<text x="569.30" y="403" text-anchor="end" class="tk" font-size="6.8">40</text>
<text x="569.30" y="384" text-anchor="end" class="tk" font-size="6.8">60</text>
<text x="569.30" y="366" text-anchor="end" class="tk" font-size="6.8">80</text>
<text x="569.30" y="348" text-anchor="end" class="tk" font-size="6.8">100</text>
<text x="598.00" y="338" text-anchor="middle" class="tt">GAPDH</text>
<text transform="translate(554.00 391.38) rotate(-90)" text-anchor="middle" class="yl" font-size="7.4">Frequency (%) - NGS</text>
<text x="574.30" y="450" text-anchor="end" class="lb" font-size="7.15">Cas9</text>
<circle cx="587.10" cy="447.50" r="1.75" fill="#000"/>
<circle cx="604.40" cy="447.50" r="1.75" fill="#000"/>
<text x="574.30" y="459" text-anchor="end" class="lb" font-size="7.15">ssODN</text>
<circle cx="587.10" cy="456.50" r="1.75" fill="#000"/>
<circle cx="604.40" cy="456.50" r="1.75" fill="#000"/>
<text x="574.30" y="468" text-anchor="end" class="lb" font-size="7.15">AZD7648</text>
<circle cx="604.40" cy="465.60" r="1.75" fill="#000"/>
<rect x="29.3" y="92.7" width="10.5" height="5.0" fill="#80D6FA" stroke="#4F9BBD" stroke-width="0.5"/>
<rect x="29.3" y="105.6" width="10.5" height="5.0" fill="#EE5C69" stroke="#BC3E4B" stroke-width="0.5"/>
<text x="45.3" y="98" class="lg">HDR</text>
<text x="45.3" y="111" class="lg">Indels</text>
<rect x="29.8" y="247.3" width="10.5" height="5.0" fill="#80D6FA" stroke="#4F9BBD" stroke-width="0.5"/>
<rect x="29.8" y="260.3" width="10.5" height="5.0" fill="#EE5C69" stroke="#BC3E4B" stroke-width="0.5"/>
<text x="45.8" y="253" class="lg">HDR</text>
<text x="45.8" y="266" class="lg">Indels</text>
<rect x="115.2" y="419.3" width="10.5" height="5.0" fill="#80D6FA" stroke="#4F9BBD" stroke-width="0.5"/>
<rect x="115.2" y="432.6" width="10.5" height="5.0" fill="#EE5C69" stroke="#BC3E4B" stroke-width="0.5"/>
<text x="131.75" y="425" class="lg">HDR</text>
<text x="131.75" y="438" class="lg">Indels</text>
<rect x="487.5" y="418.3" width="10.5" height="5.0" fill="#80D6FA" stroke="#4F9BBD" stroke-width="0.5"/>
<rect x="487.5" y="432.0" width="10.5" height="5.0" fill="#EE5C69" stroke="#BC3E4B" stroke-width="0.5"/>
<text x="503.25" y="424" class="lg">HDR</text>
<text x="503.25" y="437" class="lg">Indels</text>
<text x="0.6" y="6" class="pl">a</text>
<text x="0.6" y="154" class="pl">b</text>
<text x="87.2" y="329" class="pl">c</text>
<text x="454.2" y="329" class="pl">d</text>
<text x="21.8" y="33" class="ct">RPE-1 <tspan font-style="italic">p53</tspan> <tspan font-size="5.2" dy="-3.2">-/-</tspan></text>
<text x="20.2" y="182" class="ct">RPE-1 <tspan font-style="italic">p53</tspan> <tspan font-size="5.2" dy="-3.2">+/+</tspan></text>
<text x="135" y="354" text-anchor="middle" class="ct2">HSPC</text>
<text x="506.8" y="351" text-anchor="middle" class="ct2">Upper airway</text>
<text x="506.8" y="360" text-anchor="middle" class="ct2">organoids</text>
<path d="M18.1 55.0 Q25.4 53.3 29.9 50.2 Q34.4 49.5 39.9 50.2 Q44.4 52.5 50.7 53.2 Q43.4 54.9 38.9 58.0 Q34.4 58.7 28.9 58.0 Q24.4 55.7 18.1 55.0Z" fill="#E1E1E1" fill-opacity="0.92" stroke="#ECECEC" stroke-width="0.35"/><path d="M33.5 50.1 Q40.8 48.4 45.3 45.3 Q49.8 44.6 55.3 45.3 Q59.8 47.6 66.1 48.3 Q58.8 50.0 54.3 53.1 Q49.8 53.8 44.3 53.1 Q39.8 50.8 33.5 50.1Z" fill="#E1E1E1" fill-opacity="0.92" stroke="#ECECEC" stroke-width="0.35"/><path d="M49.7 54.3 Q57.0 52.6 61.5 49.5 Q66.0 48.8 71.5 49.5 Q76.0 51.8 82.3 52.5 Q75.0 54.2 70.5 57.3 Q66.0 58.0 60.5 57.3 Q56.0 55.0 49.7 54.3Z" fill="#E1E1E1" fill-opacity="0.92" stroke="#ECECEC" stroke-width="0.35"/><path d="M34.1 59.4 Q41.4 57.7 45.9 54.6 Q50.4 53.9 55.9 54.6 Q60.4 56.9 66.7 57.6 Q59.4 59.3 54.9 62.4 Q50.4 63.1 44.9 62.4 Q40.4 60.1 34.1 59.4Z" fill="#E1E1E1" fill-opacity="0.92" stroke="#ECECEC" stroke-width="0.35"/><ellipse cx="34.4" cy="54.1" rx="2.5" ry="1.7" fill="#C9C9C9"/><ellipse cx="49.8" cy="49.2" rx="2.5" ry="1.7" fill="#C9C9C9"/><ellipse cx="66.0" cy="53.4" rx="2.5" ry="1.7" fill="#C9C9C9"/><ellipse cx="50.4" cy="58.5" rx="2.5" ry="1.7" fill="#C9C9C9"/>
<path d="M16.7 201.7 Q24.0 200.0 28.5 196.9 Q33.0 196.2 38.5 196.9 Q43.0 199.2 49.3 199.9 Q42.0 201.6 37.5 204.7 Q33.0 205.4 27.5 204.7 Q23.0 202.4 16.7 201.7Z" fill="#F7DAC5" fill-opacity="0.92" stroke="#FBE9DD" stroke-width="0.35"/><path d="M32.1 196.8 Q39.4 195.1 43.9 192.0 Q48.4 191.3 53.9 192.0 Q58.4 194.3 64.7 195.0 Q57.4 196.7 52.9 199.8 Q48.4 200.5 42.9 199.8 Q38.4 197.5 32.1 196.8Z" fill="#F7DAC5" fill-opacity="0.92" stroke="#FBE9DD" stroke-width="0.35"/><path d="M48.3 201.0 Q55.6 199.3 60.1 196.2 Q64.6 195.5 70.1 196.2 Q74.6 198.5 80.9 199.2 Q73.6 200.9 69.1 204.0 Q64.6 204.7 59.1 204.0 Q54.6 201.7 48.3 201.0Z" fill="#F7DAC5" fill-opacity="0.92" stroke="#FBE9DD" stroke-width="0.35"/><path d="M32.7 206.1 Q40.0 204.4 44.5 201.3 Q49.0 200.6 54.5 201.3 Q59.0 203.6 65.3 204.3 Q58.0 206.0 53.5 209.1 Q49.0 209.8 43.5 209.1 Q39.0 206.8 32.7 206.1Z" fill="#F7DAC5" fill-opacity="0.92" stroke="#FBE9DD" stroke-width="0.35"/><ellipse cx="33.0" cy="200.8" rx="2.5" ry="1.7" fill="#EBA894"/><ellipse cx="48.4" cy="195.9" rx="2.5" ry="1.7" fill="#EBA894"/><ellipse cx="64.6" cy="200.1" rx="2.5" ry="1.7" fill="#EBA894"/><ellipse cx="49.0" cy="205.2" rx="2.5" ry="1.7" fill="#EBA894"/>
<circle cx="128.2" cy="376.7" r="9.7" fill="#F4D0D3"/><circle cx="128.2" cy="376.7" r="8.2" fill="#EAAAB1"/>
<circle cx="141.2" cy="374.6" r="9.3" fill="#F4D0D3"/><circle cx="141.2" cy="374.6" r="7.8" fill="#EAAAB1"/>
<circle cx="136.6" cy="389.9" r="9.6" fill="#F4D0D3"/><circle cx="136.6" cy="389.9" r="8.1" fill="#EAAAB1"/>
<circle cx="514.93" cy="390.95" r="3.9" fill="#E5E6F7" stroke="#7A84DC" stroke-width="1.1"/><circle cx="506.70" cy="395.70" r="3.9" fill="#E5E6F7" stroke="#7A84DC" stroke-width="1.1"/><circle cx="498.47" cy="390.95" r="3.9" fill="#E5E6F7" stroke="#7A84DC" stroke-width="1.1"/><circle cx="498.47" cy="381.45" r="3.9" fill="#E5E6F7" stroke="#7A84DC" stroke-width="1.1"/><circle cx="506.70" cy="376.70" r="3.9" fill="#E5E6F7" stroke="#7A84DC" stroke-width="1.1"/><circle cx="514.93" cy="381.45" r="3.9" fill="#E5E6F7" stroke="#7A84DC" stroke-width="1.1"/><circle cx="506.7" cy="386.2" r="10.5" fill="#E5E6F7"/><circle cx="518.20" cy="386.20" r="2.3" fill="#B4BAF0" stroke="#6C76D4" stroke-width="1"/><circle cx="512.45" cy="396.16" r="2.3" fill="#B4BAF0" stroke="#6C76D4" stroke-width="1"/><circle cx="500.95" cy="396.16" r="2.3" fill="#B4BAF0" stroke="#6C76D4" stroke-width="1"/><circle cx="495.20" cy="386.20" r="2.3" fill="#B4BAF0" stroke="#6C76D4" stroke-width="1"/><circle cx="500.95" cy="376.24" r="2.3" fill="#B4BAF0" stroke="#6C76D4" stroke-width="1"/><circle cx="512.45" cy="376.24" r="2.3" fill="#B4BAF0" stroke="#6C76D4" stroke-width="1"/>
</svg>
</body></html>
